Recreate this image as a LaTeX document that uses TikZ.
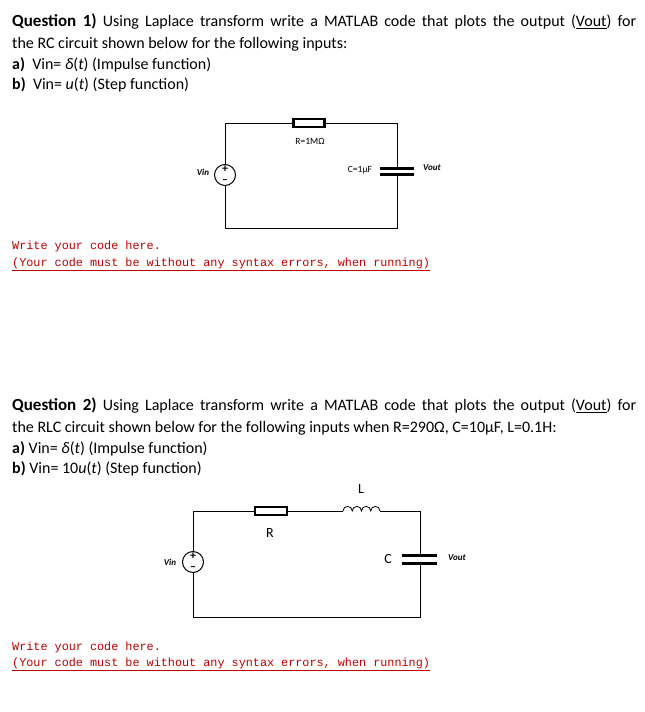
\documentclass[tikz,border=0pt]{standalone}
\usepackage{fontspec}
\setmainfont{Carlito}
\newfontfamily\codefont{Liberation Mono}
\newcommand\myul[1]{\underline{#1}}
\begin{document}
\begin{tikzpicture}[x=1pt,y=-1pt,
  txt/.style={anchor=west,inner sep=0pt,font=\fontsize{16}{18}\selectfont},
  red/.style={anchor=west,inner sep=0pt,text=codered,font=\codefont\fontsize{11.8}{14}\selectfont},
  wire/.style={line width=1pt},
  res/.style={draw,line width=2.2pt,fill=white,minimum width=30pt,minimum height=8pt,inner sep=0pt},
  src/.style={circle,draw,line width=1pt,fill=white,minimum size=21pt,inner sep=0pt},
  sgn/.style={font=\bfseries\fontsize{12}{12}\selectfont,inner sep=0pt},
  lab/.style={inner sep=0pt,font=\fontsize{9.5}{10}\selectfont},
  blab/.style={inner sep=0pt,font=\bfseries\itshape\fontsize{9}{10}\selectfont},
  big/.style={inner sep=0pt,font=\fontsize{14}{14}\selectfont}]
\definecolor{codered}{HTML}{C00000}
\useasboundingbox (0,0) rectangle (645,712);
\fill[white] (0,0) rectangle (645,712);
% Question 1 text
\node[txt] (q1a) at (12,22) {\makebox[624pt][s]{{\bfseries\fontsize{17}{18}\selectfont Question 1)} Using Laplace transform write a MATLAB code that plots the output (\myul{Vout}) for}};
\node[txt] (q1b) at (12,44) {the RC circuit shown below for the following inputs:};
\node[txt] (q1c) at (12,65) {\textbf{a)}\ \ Vin= \textit{δ}(\textit{t}) (Impulse function)};
\node[txt] (q1d) at (12,85) {\textbf{b)}\ \ Vin= \textit{u}(\textit{t}) (Step function)};
% Circuit 1
\coordinate (tl1) at (225,123); \coordinate (tr1) at (397,123);
\coordinate (bl1) at (225,228); \coordinate (br1) at (397,228);
\coordinate (ct1) at (397,168); \coordinate (cb1) at (397,174);
\draw[wire] (bl1) -- (tl1) -- (tr1) -- (ct1);
\draw[wire] (cb1) -- (br1) -- (bl1);
\draw[line width=3pt] (380,168) -- (414,168) (380,174) -- (414,174);
\node[res,minimum width=31pt] (r1) at (309,123) {};
\node[src] (v1) at (225,175) {};
\node[sgn] (p1) at (225,169.5) {+};
\node[sgn] (m1) at (225,181.5) {--};
\node[lab] (rl1) at (310,141) {R=1MΩ};
\node[blab] (vl1) at (203,172) {Vin};
\node[lab] (cl1) at (360,170) {C=1µF};
\node[blab] (vo1) at (432,168) {Vout};
% code text 1
\node[red] (w1) at (12,246) {Write your code here.};
\node[red] (w2) at (12,264) {\myul{(Your code must be without any syntax errors, when running)}};
% Question 2 text
\node[txt] (q2a) at (12,406) {\makebox[624pt][s]{{\bfseries\fontsize{17}{18}\selectfont Question 2)} Using Laplace transform write a MATLAB code that plots the output (\myul{Vout}) for}};
\node[txt] (q2b) at (12,428) {the RLC circuit shown below for the following inputs when R=290Ω, C=10µF, L=0.1H:};
\node[txt] (q2c) at (12,449) {\textbf{a)} Vin= \textit{δ}(\textit{t}) (Impulse function)};
\node[txt] (q2d) at (12,469) {\textbf{b)} Vin= 10\textit{u}(\textit{t}) (Step function)};
% Circuit 2
\coordinate (tl2) at (193,511); \coordinate (tr2) at (420,511);
\coordinate (bl2) at (193,617); \coordinate (br2) at (420,617);
\coordinate (ct2) at (420,555); \coordinate (cb2) at (420,563);
\coordinate (li) at (343,511); \coordinate (lo) at (380,511);
\draw[wire] (bl2) -- (tl2) -- (li);
\draw[line width=0.8pt] (li) arc[start angle=180,end angle=0,radius=4.625pt]
  arc[start angle=180,end angle=0,radius=4.625pt]
  arc[start angle=180,end angle=0,radius=4.625pt]
  arc[start angle=180,end angle=0,radius=4.625pt];
\draw[wire] (lo) -- (tr2) -- (ct2);
\draw[wire] (cb2) -- (br2) -- (bl2);
\draw[line width=3pt] (402,555) -- (437,555) (402,563) -- (437,563);
\node[res,minimum width=32pt] (r2) at (271,511) {};
\node[src] (v2) at (193,562) {};
\node[sgn] (p2) at (193,556.5) {+};
\node[sgn] (m2) at (193,568.5) {--};
\node[big] (ll2) at (361,489) {L};
\node[big] (rl2) at (270,533) {R};
\node[big] (cl2) at (388,559) {C};
\node[blab] (vl2) at (170,562) {Vin};
\node[blab] (vo2) at (457,558) {Vout};
% code text 2
\node[red] (w3) at (12,647) {Write your code here.};
\node[red] (w4) at (12,664) {\myul{(Your code must be without any syntax errors, when running)}};
\end{tikzpicture}
\end{document}
